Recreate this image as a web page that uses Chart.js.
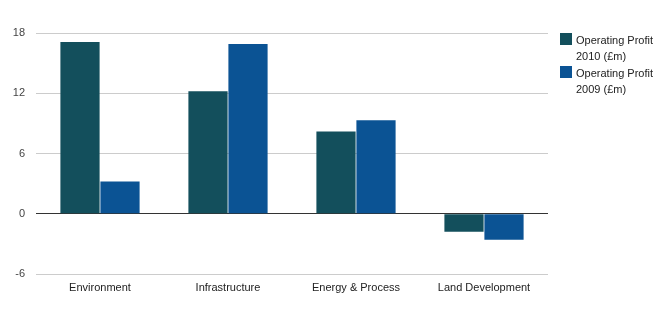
<!DOCTYPE html><html lang="en"><head><meta charset="utf-8"/>
<title>Operating Profit by Division</title>
<script src="https://cdn.jsdelivr.net/npm/chart.js@4.4.1/dist/chart.umd.min.js"></script>
<style>
  *{box-sizing:border-box;font-family:"Liberation Sans",Arial,sans-serif}
  body{margin:0;background:#fff}
  .wrap{position:relative;width:660px;height:323px}
  .legend{position:absolute;left:560px;top:32px;font-size:11px;color:#222;line-height:16px;white-space:nowrap}
  .legend .it{position:relative;padding-left:16px;height:33px}
  .legend .sw{position:absolute;left:0;top:1px;width:12px;height:12px}
</style></head><body>
<div class="wrap">
  <canvas id="c" width="660" height="323"></canvas>
  <div class="legend" id="legend"></div>
</div>
<script>
const categories = ['Environment', 'Infrastructure', 'Energy & Process', 'Land Development'];
const profit2010 = [17.1, 12.2, 8.2, -1.8];
const profit2009 = [3.2, 16.9, 9.3, -2.6];
const seriesNames = [['Operating Profit', '2010 (£m)'], ['Operating Profit', '2009 (£m)']];
const colors = ['#134f5c', '#0b5394'];
const yTicks = [-6, 0, 6, 12, 18];

const chart = new Chart(document.getElementById('c'), {
  type: 'bar',
  data: {
    labels: categories,
    datasets: [
      {label: seriesNames[0].join(' '), data: profit2010, backgroundColor: colors[0]},
      {label: seriesNames[1].join(' '), data: profit2009, backgroundColor: colors[1]}
    ]
  },
  options: {
    responsive: false, animation: false,
    layout: {padding: {left: 0, right: 112, top: 33, bottom: 0}},
    datasets: {bar: {categoryPercentage: 0.625, barPercentage: 0.98}},
    plugins: {legend: {display: false}, tooltip: {enabled: false}},
    scales: {
      x: {
        grid: {display: false, drawTicks: false}, border: {display: false},
        ticks: {color: '#222', font: {size: 11, family: 'Liberation Sans'}, padding: 7, maxRotation: 0},
        afterFit: s => { s.height = 49; }
      },
      y: {
        min: yTicks[0], max: yTicks[yTicks.length - 1],
        afterBuildTicks: s => { s.ticks = yTicks.map(v => ({value: v})); },
        grid: {drawTicks: false, color: c => c.tick && c.tick.value === 0 ? '#333' : '#ccc'},
        border: {display: false},
        ticks: {color: '#444', font: {size: 11, family: 'Liberation Sans'}, padding: 11},
        afterFit: s => { s.width = 36; }
      }
    }
  }
});

document.getElementById('legend').innerHTML = seriesNames.map((n, i) =>
  '<div class="it"><span class="sw" style="background:' + colors[i] + '"></span>' + n.join('<br>') + '</div>').join('');
</script></body></html>
